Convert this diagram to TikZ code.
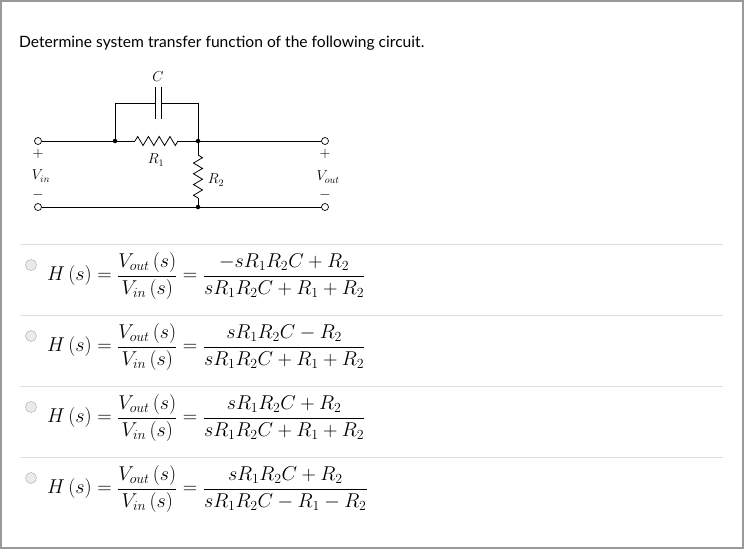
\documentclass[tikz,border=0pt]{standalone}
\usepackage{amsmath}
\usepackage{graphicx}
\usepackage{fontspec}
\setsansfont{Lato}
\usetikzlibrary{decorations.pathmorphing}
\newcommand{\eqfit}[1]{\scalebox{0.965}{#1}}
\begin{document}
\begin{tikzpicture}[x=1pt,y=-1pt,
  wire/.style={line width=0.8pt},
  res/.style={wire,decorate,decoration={zigzag,segment length=10.75pt,amplitude=4.5pt}},
  dotn/.style={circle,fill,inner sep=0pt,minimum size=4.5pt},
  term/.style={circle,draw,line width=0.7pt,fill=white,inner sep=0pt,minimum size=7pt},
  lbl/.style={inner sep=0pt,font=\fontsize{14}{15}\selectfont},
  sep/.style={draw=black!13,line width=0.8pt},
  radio/.style={circle,draw=black!35,fill=black!8,inner sep=0pt,minimum size=11pt},
  eq/.style={anchor=west,inner sep=0pt,font=\fontsize{19.6}{23}\selectfont}]
\useasboundingbox (0,0) rectangle (750,551);
\draw[black!40,line width=1.2pt] (1,1) rectangle (743,548);
\node[anchor=west,inner sep=0pt,font=\sffamily\fontsize{15.6}{18}\selectfont] (title) at (19,43) {Determine system transfer function of the following circuit.};
% circuit
\node[term] (tl) at (38,141) {};
\node[term] (bl) at (38,207) {};
\node[term] (tr) at (325,141) {};
\node[term] (br) at (325,207) {};
\node[dotn] (a) at (115,141) {};
\node[dotn] (b) at (198,141) {};
\node[dotn] (g) at (198,207) {};
\coordinate (ca) at (115,103);
\coordinate (cb) at (198,103);
\coordinate (c1) at (155,103);
\coordinate (c2) at (161,103);
\coordinate (r1a) at (135,141);
\coordinate (r1b) at (178,141);
\coordinate (r2a) at (198,155);
\coordinate (r2b) at (198,198);
\draw[wire] (tl) -- (a) -- (r1a);
\draw[res] (r1a) -- (r1b);
\draw[wire] (r1b) -- (b) -- (tr);
\draw[wire] (a) -- (ca) -- (c1);
\draw[wire] (c2) -- (cb) -- (b);
\draw[wire] ([yshift=-16]c1) -- ([yshift=16]c1);
\draw[wire] ([yshift=-16]c2) -- ([yshift=16]c2);
\draw[wire] (b) -- (r2a);
\draw[res] (r2a) -- (r2b);
\draw[wire] (r2b) -- (g);
\draw[wire] (bl) -- (g) -- (br);
\node[lbl] (lc) at (158,77) {$C$};
\node[lbl] (lr1) at (156,160) {$R_1$};
\node[lbl] (lr2) at (216,180) {$R_2$};
\node[lbl] (p1) at (38,154) {$+$};
\node[lbl] (m1) at (38,195) {$-$};
\node[lbl] (vin) at (41,176) {$V_{in}$};
\node[lbl] (p2) at (325,154) {$+$};
\node[lbl] (m2) at (325,195) {$-$};
\node[lbl] (vout) at (328,177) {$V_{out}$};
% options
\foreach \y in {244,315,386,457} \draw[sep] (20,\y) -- (723,\y);
\node[radio] (o1) at (31,265) {};
\node[radio] (o2) at (31,336) {};
\node[radio] (o3) at (31,407) {};
\node[radio] (o4) at (31,478) {};
\node[eq] (e1) at (47,276) {\eqfit{$H\left(s\right)=\dfrac{V_{out}\left(s\right)}{V_{in}\left(s\right)}=\dfrac{-sR_1R_2C+R_2}{sR_1R_2C+R_1+R_2}$}};
\node[eq] (e2) at (47,347) {\eqfit{$H\left(s\right)=\dfrac{V_{out}\left(s\right)}{V_{in}\left(s\right)}=\dfrac{sR_1R_2C-R_2}{sR_1R_2C+R_1+R_2}$}};
\node[eq] (e3) at (47,418) {\eqfit{$H\left(s\right)=\dfrac{V_{out}\left(s\right)}{V_{in}\left(s\right)}=\dfrac{sR_1R_2C+R_2}{sR_1R_2C+R_1+R_2}$}};
\node[eq] (e4) at (47,489) {\eqfit{$H\left(s\right)=\dfrac{V_{out}\left(s\right)}{V_{in}\left(s\right)}=\dfrac{sR_1R_2C+R_2}{sR_1R_2C-R_1-R_2}$}};
\end{tikzpicture}
\end{document}
